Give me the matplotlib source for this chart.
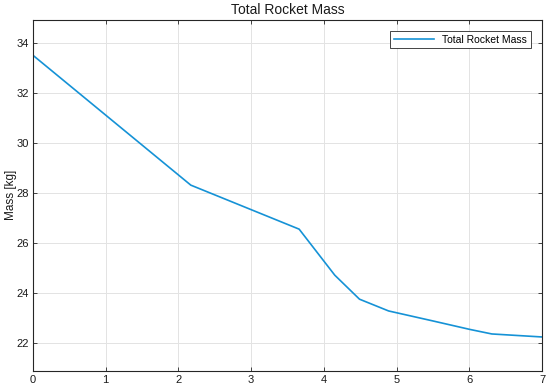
import matplotlib
matplotlib.use("Agg")
import matplotlib.pyplot as plt

time_s = [0.0, 2.17, 3.66, 4.15, 4.49, 4.89, 5.5, 6.01, 6.31, 7.0]
mass_kg = [33.52, 28.33, 26.57, 24.73, 23.77, 23.30, 22.90, 22.56, 22.38, 22.26]
xticks = [0, 1, 2, 3, 4, 5, 6, 7]
yticks = [22, 24, 26, 28, 30, 32, 34]

plt.rcParams['font.family'] = ['Liberation Sans', 'DejaVu Sans']

fig = plt.figure(figsize=(5.5, 3.91), dpi=100)
ax = fig.add_axes([0.06, 0.0512, 0.9255, 0.8988])
ax.plot(time_s, mass_kg, color='#1592d6', lw=1.2, label='Total Rocket Mass')
ax.set_xlim(0, 7)
ax.set_ylim(20.9, 34.95)
ax.set_xticks(xticks)
ax.set_yticks(yticks)
ax.grid(True, color='#e3e3e3', lw=0.7)
ax.set_axisbelow(True)
ax.tick_params(direction='in', top=True, right=True, labelsize=8, colors='#262626',
               length=3, width=0.6, labelcolor='#1a1a1a', pad=3)
for s in ax.spines.values():
    s.set_color('#262626')
    s.set_linewidth(0.8)
ax.set_title('Total Rocket Mass', fontsize=10, color='#1a1a1a', pad=4)
ax.set_ylabel('Mass [kg]', fontsize=8.5, color='#1a1a1a')
ax.yaxis.set_label_coords(-0.032, 0.5)
leg = ax.legend(loc='upper right', fontsize=7.5, frameon=True, fancybox=False,
                edgecolor='#262626', framealpha=1, handlelength=3.8,
                borderaxespad=1.1, borderpad=0.35)
leg.get_frame().set_linewidth(0.6)
fig.savefig('out.png', dpi=100)
